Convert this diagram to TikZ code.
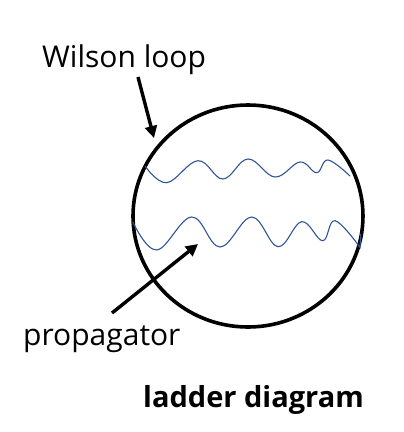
\documentclass[tikz,border=0pt]{standalone}
\usepackage{fontspec}
\setmainfont{Open Sans}
\usetikzlibrary{arrows.meta,shapes.geometric}
\definecolor{wave}{RGB}{47,85,151}
\tikzset{
  lbl/.style={inner sep=0pt, anchor=base west, font=\fontsize{30}{34}\selectfont},
  ptr/.style={line width=3.4pt, -{Triangle[length=12pt,width=12pt]}},
  wv/.style={draw=wave, line width=1.1pt},
}
\begin{document}
\begin{tikzpicture}[x=1pt,y=-1pt]
\useasboundingbox (0,0) rectangle (404,432);
\node[draw, line width=3.6pt, ellipse, minimum width=230pt, minimum height=222pt, inner sep=0pt] (loop) at (248,216) {};
\draw[wv] plot[smooth, tension=0.65] coordinates {(145,166) (166.7,182.7) (198,160.7) (223,179) (248,159) (275,177) (300,162) (316.7,172.7) (328,160) (350,176)};
\draw[wv] plot[smooth, tension=0.65] coordinates {(132.7,221.7) (156.7,250) (191.7,217) (220,247) (251.7,217) (278,246.7) (301.7,221.7) (322.7,240.7) (335,220.7) (360,247.3)} -- (360.7,234);
\node[lbl] (wl) at (42,67) {Wilson loop};
\node[lbl] (pr) at (23,345) {propagator};
\node[lbl, font=\fontsize{29}{32}\selectfont\bfseries] (ld) at (143,407) {ladder diagram};
\coordinate (wa) at (138,77);
\coordinate (wb) at (154,138);
\coordinate (pa) at (112,313);
\coordinate (pb) at (198,244);
\draw[ptr] (wa) -- (wb);
\draw[ptr] (pa) -- (pb);
\end{tikzpicture}
\end{document}
